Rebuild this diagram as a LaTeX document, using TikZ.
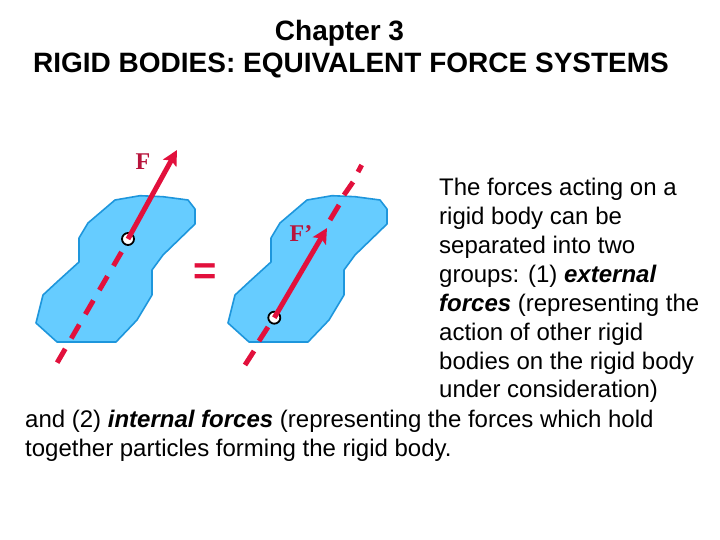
\documentclass[tikz,border=0pt]{standalone}
\usepackage{fontspec}
\setmainfont{Liberation Sans}
\newfontfamily\serifF{Liberation Serif}
\usetikzlibrary{arrows.meta}
\definecolor{forcered}{HTML}{E2103C}
\definecolor{labelred}{HTML}{B8143C}
\definecolor{bodyblue}{HTML}{66CCFF}
\definecolor{bodyedge}{HTML}{1E96DC}
\tikzset{
  x=1pt,y=-1pt,
  rigid/.style={fill=bodyblue,draw=bodyedge,line width=1.6pt,line join=round},
  force/.style={draw=forcered,line width=5pt,-{Stealth[length=15pt,width=15pt,inset=3pt]}},
  axisdash/.style={draw=forcered,line width=5pt,dash pattern=on 16pt off 12pt},
  seg/.style={draw=forcered,line width=5pt},
  pin/.style={circle,draw=black,fill=white,line width=1.8pt,minimum size=12pt,inner sep=0pt},
  title/.style={anchor=base,font=\fontsize{28}{28}\selectfont\bfseries,inner sep=0pt},
  body/.style={anchor=base west,font=\fontsize{24}{24}\selectfont,inner sep=0pt},
  flabel/.style={anchor=base,font=\fontsize{24}{24}\selectfont\serifF\bfseries,text=labelred,inner sep=0pt}
}
\begin{document}
\begin{tikzpicture}
\useasboundingbox (0,0) rectangle (720,540);
\fill[white] (0,0) rectangle (720,540);
\node[title] (t1) at (339.5,41) {Chapter 3};
\node[title] (t2) at (351,73) {RIGID BODIES: EQUIVALENT FORCE SYSTEMS};
% bodies
\def\blob{(115,200) -- (140,195.7) -- (163,196.7) -- (188,200) -- (195,209) -- (195,224) -- (163,255) -- (152,270) -- (152,295) -- (137,320) -- (116,342) -- (57,342) -- (36,323) -- (43,295) -- (57,282) -- (79,262) -- (79,238) -- (88,223) -- cycle}
\path[rigid] \blob;
\begin{scope}[xshift=192pt]
\path[rigid] \blob;
\end{scope}
% left system
\node[pin] (pa) at (128,239) {};
\coordinate (ta) at (177,150);
\coordinate (da) at (121.5,252);
\coordinate (ea) at (57,363);
\path[axisdash] (da) -- (ea);
\path[force] (pa.center) -- (ta);
\node[flabel] (fa) at (143,170) {F};
% right system
\node[pin] (pb) at (274.3,317.7) {};
\coordinate (tb) at (327,228);
\coordinate (r1) at (361.7,165); \coordinate (r2) at (358,172);
\coordinate (r3) at (353,182);   \coordinate (r4) at (344,195);
\coordinate (r5) at (339,205);   \coordinate (r6) at (330,220);
\coordinate (r7) at (268,327);   \coordinate (r8) at (259,341);
\coordinate (r9) at (254,351);   \coordinate (r10) at (245,365);
\path[seg] (r1) -- (r2);
\path[seg] (r3) -- (r4);
\path[seg] (r5) -- (r6);
\path[seg] (r7) -- (r8);
\path[seg] (r9) -- (r10);
\path[force] (pb.center) -- (tb);
\node[flabel] (fb) at (301,241) {F’};
\node[anchor=base,inner sep=0pt,text=forcered,font=\fontsize{40}{40}\selectfont\bfseries] (eq) at (205.5,284) {=};
% text
\node[body] (l1) at (439,196) {The forces acting on a};
\node[body] (l2) at (439,225) {rigid body can be};
\node[body] (l3) at (439,254) {separated into two};
\node[body] (l4) at (439,282) {groups: (1) \textbf{\itshape external}};
\node[body] (l5) at (439,311) {\textbf{\itshape forces} (representing the};
\node[body] (l6) at (439,340) {action of other rigid};
\node[body] (l7) at (439,369) {bodies on the rigid body};
\node[body] (l8) at (439,397) {under consideration)};
\node[body] (l9) at (25,427) {and (2) \textbf{\itshape internal forces} (representing the forces which hold};
\node[body] (l10) at (25,456) {together particles forming the rigid body.};
\end{tikzpicture}
\end{document}
